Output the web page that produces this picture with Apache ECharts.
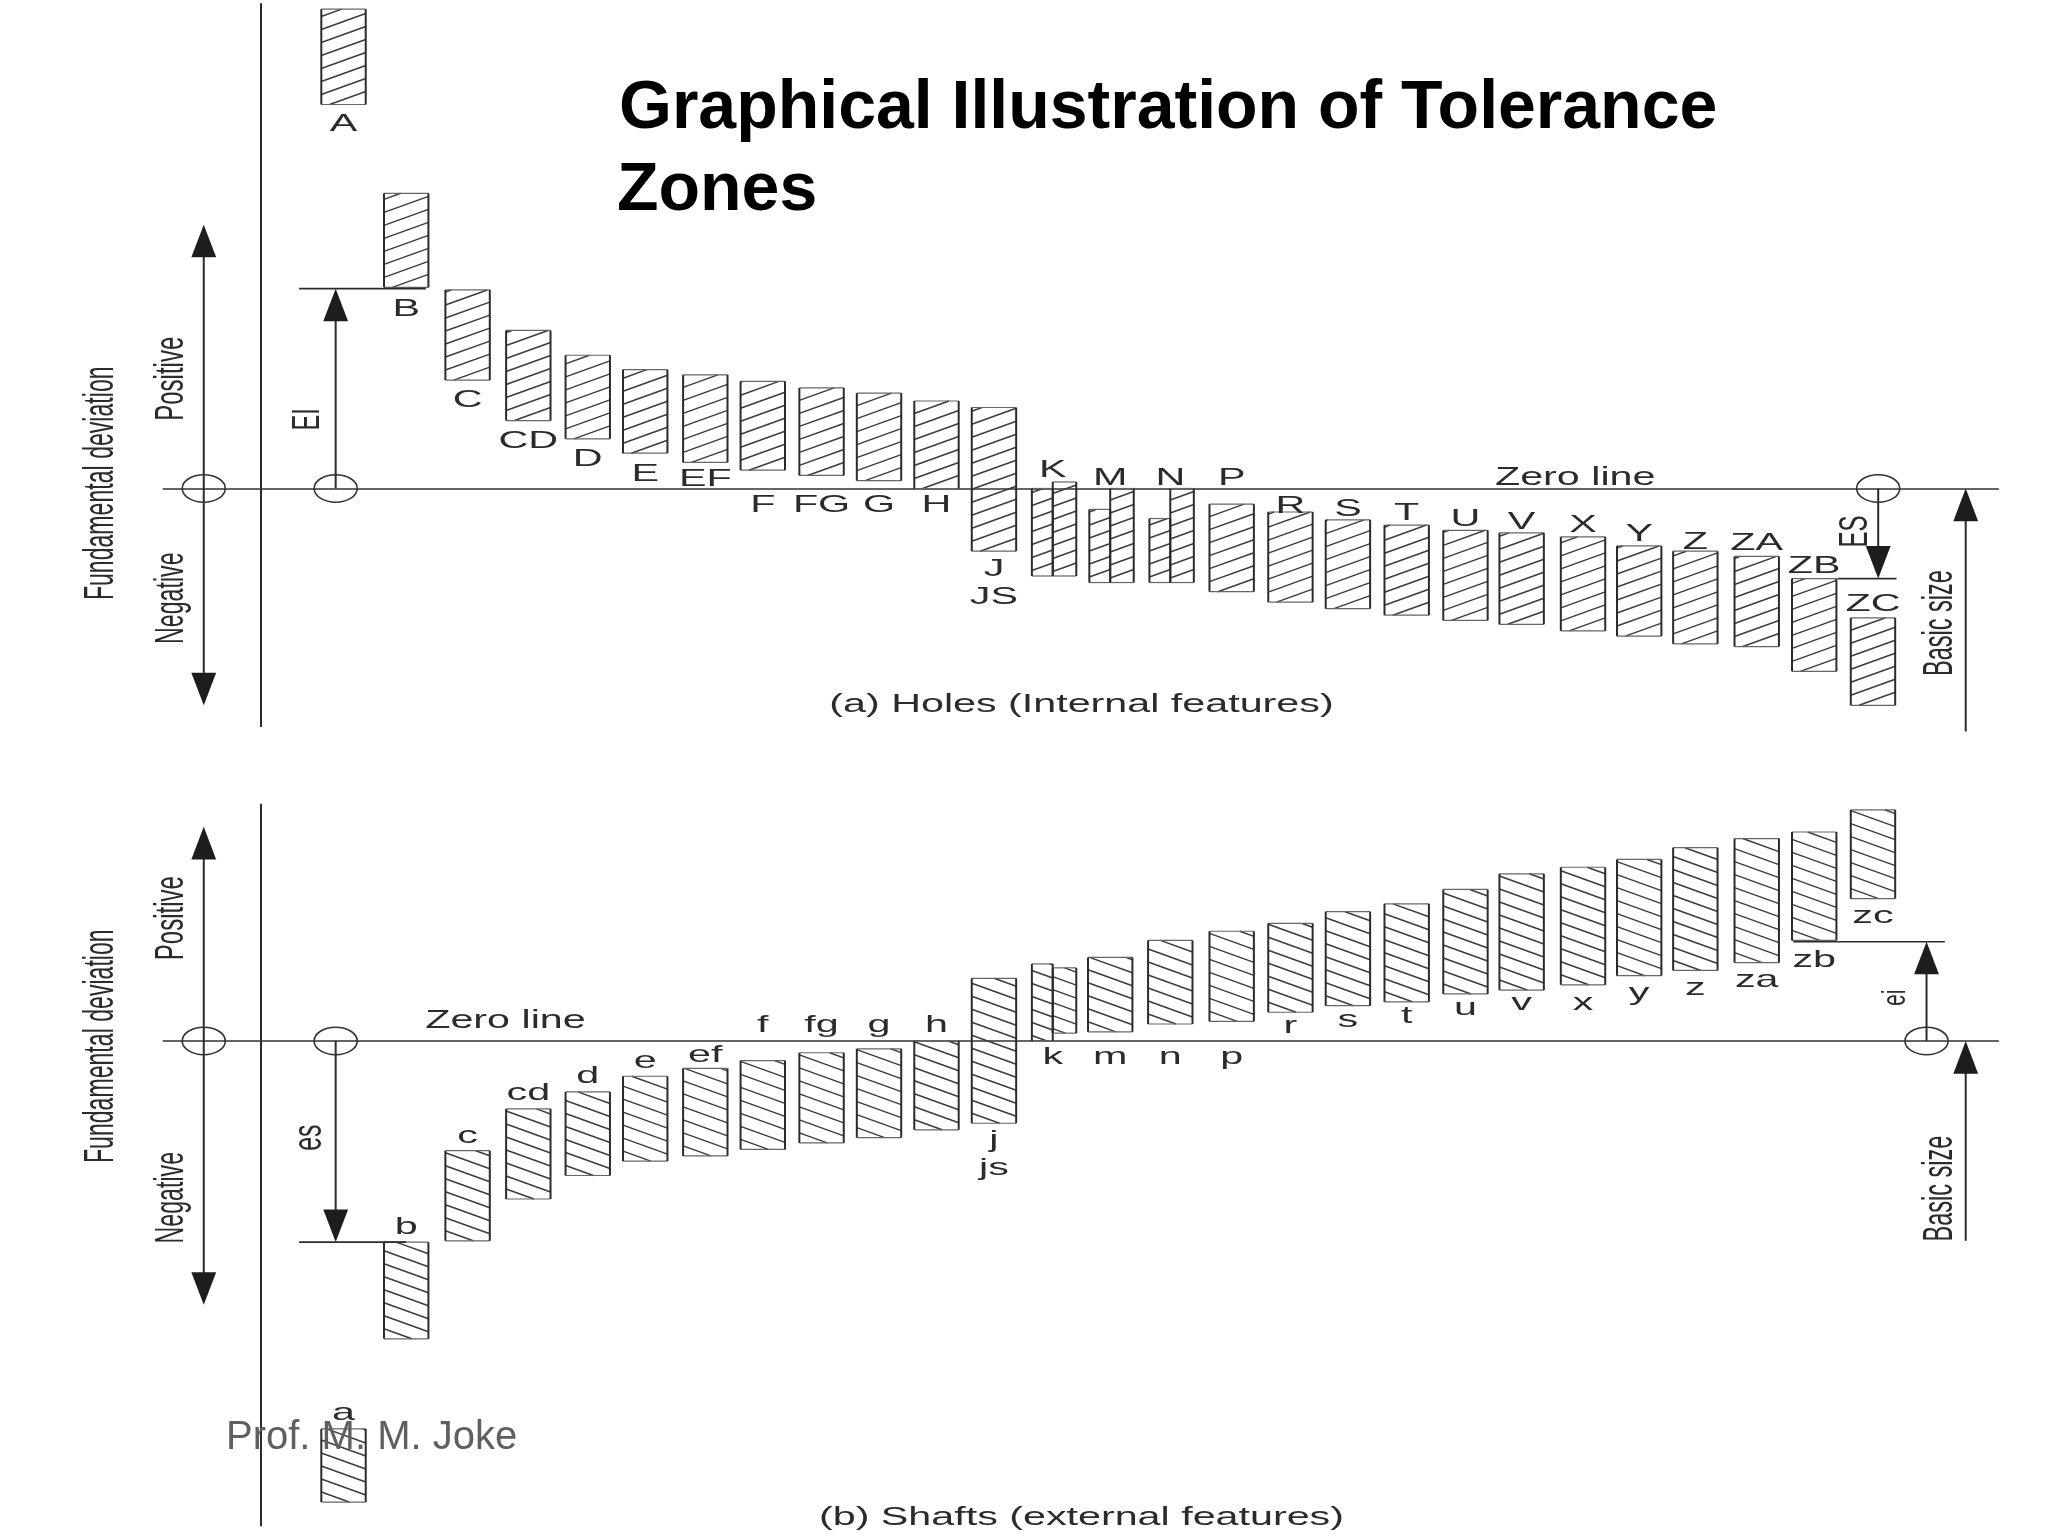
<!DOCTYPE html>
<html>
<head>
<meta charset="utf-8">
<title>Graphical Illustration of Tolerance Zones</title>
<script src="https://cdn.jsdelivr.net/npm/echarts@6/dist/echarts.min.js"></script>
<style>
    html, body { margin: 0; padding: 0; background: #fff; }
    #main { width: 2048px; height: 1536px; }
</style>
</head>
<body>
<div id="main"></div>
<script>
// where each zone stands along the x axis, same for both panels
var zoneAt = [263, 311, 358, 404.5, 450, 494, 540, 584, 629, 673, 717, 761, 806, 850, 896, 943, 988, 1032, 1077, 1122, 1165, 1212, 1255, 1298, 1345, 1389, 1434];

// holes: upper / lower deviation of every zone, K M N are split in two halves
var holeCategories = ['A', 'B', 'C', 'CD', 'D', 'E', 'EF', 'F', 'FG', 'G', 'H', 'J\nJS', 'K', 'M', 'N', 'P', 'R', 'S', 'T', 'U', 'V', 'X', 'Y', 'Z', 'ZA', 'ZB', 'ZC'];
var holeUpper = [367, 226, 152, 121, 102, 91, 87, 82, 77, 73, 67, 62, 0, -16, -23, -12, -18, -24, -28, -32, -34, -37, -44, -48, -52, -69, -99];
var holeLower = [294, 154, 83, 52, 38, 27, 20, 14, 10, 6, 0, -48, -67, -72, -72, -79, -87, -92, -97, -101, -104, -109, -113, -119, -121, -140, -166];
var holeSplit = ['K', 'M', 'N'];
var holeSplitUpper = [5, 0, 0];
var holeSplitLower = [-67, -72, -72];
var holeLabelAt = [281, 139, 69, 38, 24, 13, 9, -11, -11, -11, -11, -71, 16, 10, 10, 10, -12, -14, -17, -22, -24, -26, -33, -39, -40, -58, -87];

// shafts
var shaftCategories = ['a', 'b', 'c', 'cd', 'd', 'e', 'ef', 'f', 'fg', 'g', 'h', 'j\njs', 'k', 'm', 'n', 'p', 'r', 's', 't', 'u', 'v', 'x', 'y', 'z', 'za', 'zb', 'zc'];
var shaftUpper = [-297, -154, -84, -52, -39, -27, -21, -15, -9, -6, 0, 48, 59, 64, 77, 84, 90, 99, 105, 116, 128, 133, 139, 148, 155, 160, 177];
var shaftLower = [-353, -228, -153, -121, -103, -92, -88, -83, -78, -74, -68, -63, 0, 7, 13, 15, 22, 27, 30, 36, 39, 43, 50, 54, 60, 77, 109];
var shaftSplit = ['k'];
var shaftSplitUpper = [56];
var shaftSplitLower = [6];
var shaftLabelAt = [-283, -141, -71, -38, -25, -14, -9, 14, 14, 14, 14, -85, -11, -11, -11, -11, 13, 18, 21, 27, 31, 31, 38, 42, 48, 64, 97];

// the drawing was measured on a 1568 wide copy
var s = 2048 / 1568;
var labelFont = '"Liberation Sans", Arial, sans-serif';
var ink = '#2b2b2b';

function buildZones(categories, upper, lower, split, splitUpper, splitLower, labelAt) {
    var zones = [];
    categories.forEach(function (name, i) {
        var k = split.indexOf(name);
        zones.push([zoneAt[i], upper[i], lower[i], k < 0 ? 0 : -1, labelAt[i], i]);
        if (k >= 0) {
            zones.push([zoneAt[i], splitUpper[k], splitLower[k], 1, labelAt[i], i]);
        }
    });
    return zones;
}

// hatch segments clipped to the box
function hatch(x0, x1, yTop, yBot, dir) {
    var slope = -dir * 0.36, gap = 13, w = x1 - x0;
    var lines = [];
    var start = yBot + Math.abs(slope * w);
    for (var c = start; c > yTop - Math.abs(slope * w); c -= gap) {
        var a = [x0, c], b = [x1, c + slope * w];
        [a, b].forEach(function (p) {
            if (p[1] > yBot) { p[0] = x0 + (yBot - c) / slope; p[1] = yBot; }
            if (p[1] < yTop) { p[0] = x0 + (yTop - c) / slope; p[1] = yTop; }
        });
        if (a[0] < x1 && b[0] > x0 && a[0] !== b[0]) {
            lines.push({
                type: 'line',
                shape: { x1: a[0], y1: a[1], x2: b[0], y2: b[1] },
                style: { stroke: '#3c3c3c', lineWidth: 1.5 }
            });
        }
    }
    return lines;
}

function zoneRenderer(categories, dir) {
    return function (params, api) {
        var at = api.value(0), part = api.value(3);
        var full = api.size([34, 0])[0];
        var centre = api.coord([at, 0])[0];
        var x0 = centre - full / 2, x1 = centre + full / 2;
        if (part < 0) { x0 = centre - full * 0.47; x1 = centre; }
        if (part > 0) { x0 = centre; x1 = centre + full * 0.53; }
        var yTop = api.coord([at, api.value(1)])[1];
        var yBot = api.coord([at, api.value(2)])[1];
        var edge = { stroke: ink, lineWidth: 2 };
        var thin = { stroke: '#666', lineWidth: 1.2 };
        var children = hatch(x0, x1, yTop, yBot, dir).concat([
            { type: 'line', shape: { x1: x0, y1: yTop, x2: x1, y2: yTop }, style: thin },
            { type: 'line', shape: { x1: x0, y1: yBot, x2: x1, y2: yBot }, style: thin },
            { type: 'line', shape: { x1: x0, y1: yTop, x2: x0, y2: yBot }, style: edge },
            { type: 'line', shape: { x1: x1, y1: yTop, x2: x1, y2: yBot }, style: edge }
        ]);
        if (part <= 0) {
            children.push({
                type: 'text',
                x: centre,
                y: api.coord([at, api.value(4)])[1] + 2.5,
                scaleX: 1.72,
                style: {
                    text: categories[api.value(5)], font: '24px ' + labelFont, fill: ink,
                    align: 'center', verticalAlign: 'middle', lineHeight: 28
                }
            });
        }
        return { type: 'group', children: children };
    };
}

// annotation helpers, coordinates on the 1568 copy
function seg(x1, y1, x2, y2, w) {
    return { type: 'line', z: 10, shape: { x1: x1 * s, y1: y1 * s, x2: x2 * s, y2: y2 * s }, style: { stroke: ink, lineWidth: w || 2 } };
}
function head(x, y, dir) {
    // dir -1 points up, 1 points down
    return {
        type: 'polygon', z: 10,
        shape: { points: [[x * s, y * s], [(x - 9.5) * s, (y - dir * 25) * s], [(x + 9.5) * s, (y - dir * 25) * s]] },
        style: { fill: '#1d1d1d' }
    };
}
function ring(x, y) {
    return { type: 'ellipse', z: 10, shape: { cx: x * s, cy: y * s, rx: 16.5 * s, ry: 10.5 * s }, style: { stroke: '#333', lineWidth: 1.6, fill: 'none' } };
}
function upText(text, x, y, size, squeeze) {
    return {
        type: 'text', z: 10, x: x * s, y: y * s, rotation: Math.PI / 2, scaleX: squeeze,
        style: { text: text, font: size + 'px ' + labelFont, fill: ink, align: 'center', verticalAlign: 'middle' }
    };
}
function wideText(text, x, y, size, stretch) {
    return {
        type: 'text', z: 10, x: x * s, y: y * s, scaleX: stretch,
        style: { text: text, font: size + 'px ' + labelFont, fill: ink, align: 'center', verticalAlign: 'middle' }
    };
}

var annotations = [
    // top panel
    seg(156, 190, 156, 520), head(156, 172, -1), head(156, 540, 1),
    seg(257, 374, 257, 240), head(257, 221, -1), seg(229, 221, 326, 221, 1.6),
    seg(1438, 374, 1438, 425), head(1438, 443, 1), seg(1407, 443, 1452, 443, 1.6),
    seg(1505, 560, 1505, 395), head(1505, 374, -1),
    ring(156, 374), ring(257, 374), ring(1438, 374),
    upText('Fundamental deviation', 78, 370, 42, 0.55),
    upText('Positive', 132, 290, 40, 0.6),
    upText('Negative', 132, 458, 40, 0.58),
    upText('EI', 236, 321, 38, 0.62),
    upText('ES', 1421, 407, 40, 0.6),
    upText('Basic size', 1486, 477, 42, 0.56),
    wideText('Zero line', 1206, 366, 25, 1.65),
    wideText('(a) Holes (Internal features)', 828, 540, 25, 1.65),
    // bottom panel
    seg(156, 650, 156, 980), head(156, 633, -1), head(156, 999, 1),
    seg(257, 797, 257, 935), head(257, 951, 1), seg(229, 951, 311, 951, 1.6),
    seg(1475, 797, 1475, 740), head(1475, 721, -1), seg(1373, 721, 1489, 721, 1.6),
    seg(1505, 950, 1505, 815), head(1505, 797, -1),
    ring(156, 797), ring(257, 797), ring(1475, 797),
    upText('Fundamental deviation', 78, 801, 42, 0.55),
    upText('Positive', 132, 703, 40, 0.6),
    upText('Negative', 132, 917, 40, 0.58),
    upText('es', 237, 871, 40, 0.62),
    upText('ei', 1451, 764, 34, 0.62),
    upText('Basic size', 1486, 910, 42, 0.56),
    wideText('Zero line', 387, 782, 25, 1.65),
    wideText('(b) Shafts (external features)', 828, 1162, 25, 1.65),
    // slide text
    {
        type: 'text', z: 20, x: 619, y: 109,
        style: { text: 'Graphical Illustration of Tolerance', font: 'bold 68px ' + labelFont, fill: '#000', verticalAlign: 'middle' }
    },
    {
        type: 'text', z: 20, x: 617, y: 191.5,
        style: { text: 'Zones', font: 'bold 68px ' + labelFont, fill: '#000', verticalAlign: 'middle' }
    },
    {
        type: 'text', z: 20, x: 226, y: 1438,
        style: { text: 'Prof. M. M. Joke', font: '40px ' + labelFont, fill: '#5f5f5f', verticalAlign: 'middle' }
    }
];

function panelAxes(grid, max, min) {
    return {
        x: {
            type: 'value', gridIndex: grid, min: 125, max: 1530,
            axisLine: { onZero: true, lineStyle: { color: '#333', width: 1.6 } },
            axisTick: { show: false }, axisLabel: { show: false }, splitLine: { show: false }
        },
        y: {
            type: 'value', gridIndex: grid, min: min, max: max,
            offset: -75 * s,
            axisLine: { show: true, onZero: false, lineStyle: { color: ink, width: 2 } },
            axisTick: { show: false }, axisLabel: { show: false }, splitLine: { show: false }
        }
    };
}

var myChart = echarts.init(document.getElementById('main'));
var holesAxes = panelAxes(0, 371, -182), shaftsAxes = panelAxes(1, 181, -371);

myChart.setOption({
    backgroundColor: '#fff',
    animation: false,
    grid: [
        { left: 125 * s, width: 1405 * s, top: 3 * s, height: 553 * s },
        { left: 125 * s, width: 1405 * s, top: 616 * s, height: 552 * s }
    ],
    xAxis: [holesAxes.x, shaftsAxes.x],
    yAxis: [holesAxes.y, shaftsAxes.y],
    graphic: { elements: annotations },
    series: [
        {
            name: 'Holes', type: 'custom', xAxisIndex: 0, yAxisIndex: 0, clip: false,
            renderItem: zoneRenderer(holeCategories, 1),
            encode: { x: 0, y: [1, 2] },
            data: buildZones(holeCategories, holeUpper, holeLower, holeSplit, holeSplitUpper, holeSplitLower, holeLabelAt)
        },
        {
            name: 'Shafts', type: 'custom', xAxisIndex: 1, yAxisIndex: 1, clip: false,
            renderItem: zoneRenderer(shaftCategories, -1),
            encode: { x: 0, y: [1, 2] },
            data: buildZones(shaftCategories, shaftUpper, shaftLower, shaftSplit, shaftSplitUpper, shaftSplitLower, shaftLabelAt)
        }
    ]
});
window.addEventListener('resize', function () { myChart.resize(); });
</script>
</body>
</html>
